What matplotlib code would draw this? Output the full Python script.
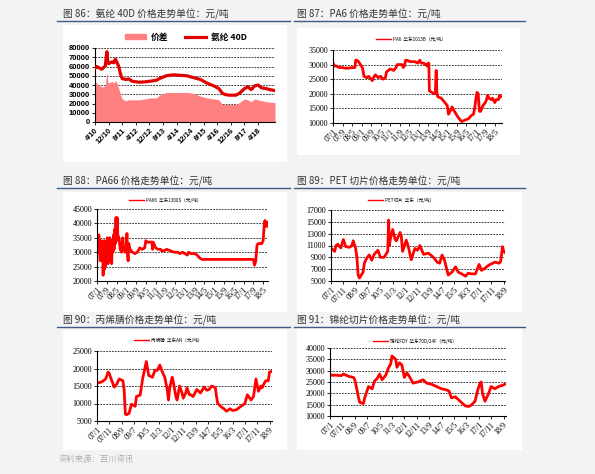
import matplotlib
matplotlib.use("Agg")
import matplotlib.pyplot as plt
from matplotlib.patches import Rectangle, Patch
from matplotlib.lines import Line2D

plt.rcParams['font.family'] = ['Noto Sans CJK SC', 'DejaVu Sans']

# ---------------- data ----------------
# Panel 86: spandex 40D, months since 2010-04
sp_month = [0, 1, 2, 3, 4, 5, 6, 7, 7.5, 8, 9, 10, 11, 12, 13, 14, 15, 16, 18, 20, 22, 26, 30, 32, 36, 38, 42, 46, 50, 54, 58, 62, 66, 70, 73, 75, 77, 79, 83, 85, 88, 90, 92, 94, 96, 98, 101, 103, 106]
sp_price = [58000, 60000, 59000, 58000, 57000, 59000, 60000, 76000, 66000, 63000, 64000, 65000, 64000, 68000, 64000, 60000, 52000, 47000, 46000, 46500, 44000, 43000, 43500, 44000, 45000, 47000, 50000, 51000, 50500, 50000, 48000, 46000, 42000, 39000, 36000, 31000, 29500, 29000, 29000, 31000, 36000, 38000, 35000, 39000, 40000, 37000, 36000, 35000, 34000]
sp_spread = [44000, 42000, 40000, 39000, 38000, 38000, 40000, 54000, 44000, 42000, 43000, 44000, 42000, 45000, 42000, 36000, 30000, 25000, 23000, 24000, 24000, 24000, 25000, 26000, 26000, 29000, 32000, 32000, 32000, 32000, 31000, 28000, 26000, 25000, 24000, 19000, 19000, 19000, 19000, 21000, 25000, 24000, 22000, 25000, 24000, 23000, 22000, 21500, 21000]
sp_ticks = ["4/10", "12/10", "8/11", "4/12", "12/12", "8/13", "4/14", "12/14", "8/15", "4/16", "12/16", "8/17", "4/18"]

# Panel 87: PA6, months since 2007-01
pa6_month = [0, 1, 2, 3, 5, 7.5, 10, 13, 17, 18.5, 19, 20, 21.5, 23, 24, 25, 26, 28.5, 30, 33, 34, 35.5, 37, 38, 40, 42, 44, 45, 48, 51, 53, 54, 56, 58, 59, 60, 61, 62, 65, 67, 69, 71, 73, 74, 76, 78, 79, 80, 80.5, 81, 83, 85, 86, 86.7, 87.3, 88, 91, 94, 96, 97, 99, 100, 102, 105, 108, 111, 114, 116, 118, 119, 120, 121, 122, 123, 124, 126, 128, 129, 130, 131, 133, 134, 136, 137, 139, 140, 141]
pa6_price = [30500, 29800, 29500, 29500, 29000, 29000, 28800, 28800, 29000, 29000, 31500, 31500, 31000, 30000, 29500, 28500, 26000, 25500, 26000, 24500, 25500, 26500, 26000, 25500, 26000, 25000, 25500, 27500, 28500, 28000, 29000, 30000, 30000, 30000, 29000, 29500, 31500, 31500, 31000, 31000, 31000, 30500, 31500, 30500, 30500, 30000, 29500, 30500, 30500, 21000, 20500, 20000, 20500, 28000, 20000, 19000, 18500, 17000, 16000, 13000, 14500, 15500, 14000, 12000, 10500, 11000, 11500, 12500, 13000, 15000, 18000, 20500, 20000, 14000, 14000, 16000, 17000, 18000, 19500, 18500, 18000, 18500, 17000, 18000, 18000, 19500, 19000]
pa6_ticks = ["07/1", "07/9", "08/5", "09/1", "09/9", "10/5", "11/1", "11/9", "12/5", "13/1", "13/9", "14/5", "15/1", "15/9", "16/5", "17/1", "17/9", "18/5"]

# Panel 88: PA66, months since 2007-01
pa66_month = [0, 0.5, 1, 1.5, 2, 2.5, 3, 3.5, 4, 4.5, 5, 5.5, 6, 6.5, 7, 7.5, 8, 8.5, 9, 9.5, 10, 10.5, 11, 11.5, 12, 12.5, 13, 13.5, 14, 14.5, 15, 15.5, 16, 16.5, 17, 18, 19, 20, 21, 22, 23, 24, 24.5, 25, 25.5, 26, 27, 29, 31, 33, 35, 37, 39, 40, 41, 43, 45, 45.5, 46, 48, 50, 52, 53, 55, 57, 60, 63, 66, 68, 70, 72, 74, 75, 77, 80, 82, 84, 86, 87, 90, 100, 110, 120, 128, 129, 130, 131, 132, 134, 135, 136, 137, 137.5, 138, 139, 140]
pa66_price = [27000, 35000, 30000, 36000, 31000, 34000, 27000, 33000, 30000, 34000, 22000, 30000, 24000, 34000, 25000, 33000, 28000, 35000, 26000, 33000, 27000, 35000, 30000, 34000, 26000, 33000, 30000, 36000, 31000, 38000, 33000, 42000, 34000, 42000, 36000, 35000, 31000, 30000, 35000, 31000, 30000, 30500, 36500, 29000, 27000, 33000, 31000, 30000, 29500, 30000, 31500, 31000, 31500, 34000, 33500, 33500, 33500, 31000, 33500, 31500, 31000, 31000, 30500, 30500, 31000, 30500, 30000, 30000, 29500, 30000, 29500, 29000, 30000, 29500, 29500, 29000, 28000, 27500, 27500, 27500, 27500, 27500, 27500, 27500, 25500, 27000, 32500, 33000, 33000, 33000, 34000, 40000, 41000, 39000, 40500, 39000]
pa66_ticks = pa6_ticks

# Panel 89: PET chips, months since 2007-01
pet_month = [0, 2, 3, 4, 5.5, 7, 8, 10, 12, 15, 17, 18, 20, 21, 22, 23, 24, 26, 27, 29, 31, 33, 35, 38, 40, 43, 46, 46.7, 47.3, 48, 50, 52, 53, 56, 57, 58, 61, 63, 65, 68, 70, 72, 75, 79, 83, 86, 88, 90, 92, 95, 98, 101, 103, 106, 109, 111, 114, 117, 120, 122, 125, 128, 130, 133, 136, 137.5, 139, 140, 141]
pet_price = [10500, 10200, 10000, 11000, 11200, 10800, 10600, 12000, 10800, 10700, 11000, 11800, 10500, 9000, 6000, 5500, 5800, 6500, 8000, 8900, 9400, 8500, 9500, 10200, 9000, 9000, 10000, 15300, 11000, 12000, 13700, 12000, 11800, 13200, 12500, 10000, 11900, 10500, 8600, 10500, 10200, 11000, 9500, 9700, 9000, 8200, 8000, 9400, 8500, 6000, 6500, 7400, 6500, 6200, 5800, 6300, 6200, 6200, 7800, 6800, 7200, 7700, 7900, 8200, 8000, 8300, 10800, 10000, 9800]
pet_ticks = ["07/1", "07/11", "08/9", "09/7", "10/5", "11/3", "12/1", "12/11", "13/9", "14/7", "15/5", "16/3", "17/1", "17/11", "18/9"]

# Panel 90: acrylonitrile, months since 2007-01
an_month = [0, 2, 4, 7, 9, 10, 12, 14, 16, 18, 21, 22, 23, 24, 26, 28, 31, 32, 35, 37, 40, 42, 45, 47, 49, 51, 53, 55, 57, 58, 59, 61, 62, 64, 65, 67, 69, 70, 72, 73, 75, 76, 78, 81, 84, 87, 89, 91, 93, 96, 97, 98, 101, 103, 105, 108, 110, 113, 116, 118, 120, 122, 125, 127, 129, 131, 133, 134, 136, 137, 139, 140, 142]
an_price = [15800, 16000, 16200, 17000, 19000, 18500, 16500, 14700, 15500, 17000, 16500, 14000, 7000, 6800, 7200, 9800, 9200, 12000, 12400, 17000, 22000, 18000, 17500, 19500, 19500, 21000, 19000, 17500, 14000, 11000, 14500, 17500, 16000, 12000, 11000, 15000, 13000, 11500, 13000, 14500, 12500, 12500, 12000, 14000, 13000, 14700, 13800, 14000, 15000, 14500, 12000, 10000, 9000, 8500, 7800, 8500, 8000, 8200, 9000, 9500, 10000, 12500, 11000, 12000, 17000, 13500, 15000, 14500, 16000, 16500, 16500, 19000, 19200]
an_ticks = pet_ticks

# Panel 91: nylon chips, months since 2007-01
ny_month = [0, 5, 9, 11, 15, 19, 20, 22, 23, 24, 27, 28, 31, 34, 36, 38, 40, 42, 45, 47, 49, 50, 51, 53, 54, 56, 58, 60, 62, 64, 67, 71, 75, 78, 82, 86, 90, 94, 96, 98, 101, 104, 106, 109, 112, 114, 117, 119, 121, 122, 123, 125, 128, 130, 133, 136, 139, 141]
ny_price = [28000, 28000, 27800, 28500, 27500, 27000, 26000, 21000, 18000, 16000, 15500, 18000, 23000, 22000, 25500, 26500, 28500, 26000, 28000, 31000, 33000, 36500, 36000, 35000, 31500, 33500, 32500, 27000, 29000, 27500, 24500, 25000, 26000, 24500, 24000, 23000, 22000, 21500, 21000, 18000, 18500, 17000, 16000, 14500, 14200, 14800, 16500, 21000, 24500, 25000, 20000, 16500, 20000, 23000, 22000, 23000, 23500, 24000]
ny_ticks = pet_ticks

# ---------------- layout ----------------
W, H = 595, 474
fig = plt.figure(figsize=(W / 100, H / 100), dpi=100, facecolor='#f3f3f3')

def frect(l, r, t, b):
    return [l / W, 1 - b / H, (r - l) / W, (b - t) / H]

def box(l, r, t, b):
    fig.patches.append(Rectangle((l / W, 1 - b / H), (r - l) / W, (b - t) / H,
                                 transform=fig.transFigure, facecolor='white',
                                 edgecolor='none', zorder=-5))

def title(x, y, s, l, r):
    fig.text(x / W, 1 - y / H, s, fontsize=7, color='#333333', va='center', ha='left')
    fig.add_artist(Line2D([l / W, r / W], [1 - (y + 6.5) / H] * 2, color='#3d5a80', lw=1.0,
                          transform=fig.transFigure))

box(63, 287, 25, 162); box(297, 520, 28, 155)
box(63, 287, 192, 312); box(297, 522, 192, 312)
box(63, 287, 330, 450); box(297, 522, 328, 450)

title(63, 14, "图 86：氨纶 40D 价格走势单位：元/吨", 57, 290)
title(297, 14, "图 87：PA6 价格走势单位：元/吨", 294, 525)
title(63, 181, "图 88：PA66 价格走势单位：元/吨", 57, 290)
title(297, 181, "图 89：PET 切片价格走势单位：元/吨", 294, 525)
title(63, 320, "图 90：丙烯腈价格走势单位：元/吨", 57, 290)
title(297, 320, "图 91：锦纶切片价格走势单位：元/吨", 294, 525)

fig.text(58 / W, 1 - 459 / H, "资料来源：百川资讯", fontsize=6, color='#a8a8a8',
         va='center', ha='left', family=['Noto Serif CJK SC', 'Noto Sans CJK SC', 'DejaVu Sans'], style='italic')

def style_axes(ax, ylo, yhi, ystep, xmax, step, labels, serif=True, fs=5.8):
    ax.set_facecolor('none')
    ax.set_ylim(ylo, yhi)
    ax.set_xlim(0, xmax)
    ax.set_yticks(list(range(ylo, yhi + 1, ystep)))
    ax.set_xticks([i * step for i in range(len(labels))])
    ax.set_xticklabels(labels, rotation=45, ha='right', rotation_mode='anchor')
    for s in ['top', 'right']:
        ax.spines[s].set_visible(False)
    for s in ['left', 'bottom']:
        ax.spines[s].set_linewidth(0.8)
        ax.spines[s].set_color('black')
    ax.yaxis.grid(True, linestyle=(0, (2, 1.2)), color='#333333', lw=0.65)
    ax.set_axisbelow(True)
    ax.tick_params(length=2, width=0.6, pad=1.5)
    fam = ['Liberation Serif', 'DejaVu Serif'] if serif else ['Liberation Sans', 'DejaVu Sans']
    for lab in ax.get_xticklabels() + ax.get_yticklabels():
        lab.set_family(fam)
        lab.set_fontsize(fs)
        if not serif:
            lab.set_fontweight('bold')

def small_legend(ax, x, y, label):
    h = [Line2D([], [], color='red', lw=1.0)]
    ax.legend(h, [label], loc='center left', bbox_to_anchor=(x / W, 1 - y / H),
              bbox_transform=fig.transFigure, frameon=False, fontsize=3.3,
              handlelength=3.2, handletextpad=0.6, borderpad=0, borderaxespad=0)

LW = 2.0

# Panel 86
ax1 = fig.add_axes(frect(95, 275, 48, 122))
ax1.fill_between(sp_month, sp_spread, 0, color='#ff8080', lw=0, zorder=2)
ax1.plot(sp_month, sp_price, color='#e00000', lw=2.3, zorder=3)
style_axes(ax1, 0, 80000, 10000, 106, 8, sp_ticks, serif=False, fs=5.5)
ax1.legend([Patch(color='#ff8080'), Line2D([], [], color='#e00000', lw=2.3)], ["价差", "氨纶 40D"],
           loc='center left', bbox_to_anchor=(125 / W, 1 - 37 / H), bbox_transform=fig.transFigure,
           ncol=2, frameon=False, prop={'size': 6.3, 'weight': 'bold'}, handlelength=2.4,
           handleheight=0.5, handletextpad=0.5, columnspacing=2.0, borderpad=0, borderaxespad=0)

# Panel 87
ax2 = fig.add_axes(frect(333, 502, 50, 123))
ax2.plot(pa6_month, pa6_price, color='red', lw=LW)
style_axes(ax2, 10000, 35000, 5000, 142, 8, pa6_ticks)
small_legend(ax2, 376, 39, "PA6  华东1013B（元/吨）")

# Panel 88
ax3 = fig.add_axes(frect(97, 268, 209, 281))
ax3.plot(pa66_month, pa66_price, color='red', lw=LW)
style_axes(ax3, 20000, 45000, 5000, 140, 8, pa66_ticks)
small_legend(ax3, 129, 200, "PA66  华东1300S（元/吨）")

# Panel 89
ax4 = fig.add_axes(frect(331, 505, 210, 281))
ax4.plot(pet_month, pet_price, color='red', lw=LW)
style_axes(ax4, 5000, 17000, 2000, 141, 10, pet_ticks)
small_legend(ax4, 368, 200, "PET切片  华东（元/吨）")

# Panel 90
ax5 = fig.add_axes(frect(97, 272, 351, 421))
ax5.plot(an_month, an_price, color='red', lw=LW)
style_axes(ax5, 5000, 25000, 5000, 142, 10, an_ticks)
small_legend(ax5, 134, 340, "丙烯腈  华东AN（元/吨）")

# Panel 91
ax6 = fig.add_axes(frect(330, 506, 348, 416))
ax6.plot(ny_month, ny_price, color='red', lw=LW)
style_axes(ax6, 10000, 40000, 5000, 142, 10, ny_ticks)
small_legend(ax6, 373, 341, "锦纶FDY  华东70D/24F（元/吨）")

fig.savefig("out.png", dpi=100, facecolor=fig.get_facecolor())
